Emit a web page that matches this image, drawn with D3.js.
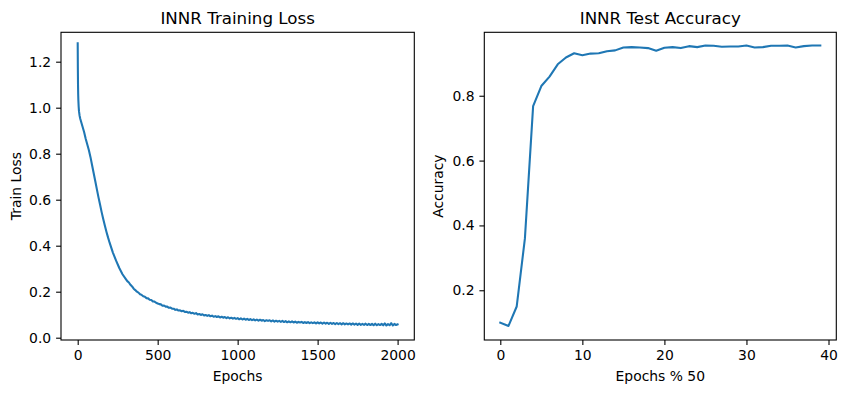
<!DOCTYPE html>
<html>
<head>
<meta charset="utf-8">
<script src="https://cdn.jsdelivr.net/npm/d3@7"></script>
<style>
  body { margin: 0; background: #fff; }
  text { font-family: "DejaVu Sans", sans-serif; fill: #000; }
</style>
</head>
<body>
<div id="chart"></div>
<script>
// training loss: epochs and values
const earlyEpochs = [0, 1, 2, 3, 4, 6, 8, 12, 16, 20, 30, 40, 50, 60, 70, 80, 90, 100, 110, 120, 130, 140,
  150, 160, 170, 180, 190, 200, 220, 240, 260, 280]
const earlyLoss = [1.28, 1.17, 1.10, 1.06, 1.035, 1.005, 0.985, 0.965, 0.952, 0.942, 0.918, 0.894, 0.865, 0.84, 0.815, 0.785, 0.75, 0.715, 0.68, 0.645, 0.61, 0.578,
  0.545, 0.515, 0.487, 0.46, 0.435, 0.412, 0.37, 0.335, 0.303, 0.276]
// from epoch 300 on, one value every 10 epochs
const lateLoss = [
  0.256, 0.246, 0.240, 0.230, 0.223, 0.213, 0.207, 0.200, 0.196, 0.189,
  0.186, 0.180, 0.178, 0.172, 0.171, 0.165, 0.164, 0.158, 0.157, 0.152,
  0.149, 0.146, 0.145, 0.139, 0.140, 0.135, 0.135, 0.130, 0.131, 0.126,
  0.126, 0.121, 0.123, 0.118, 0.119, 0.115, 0.117, 0.112, 0.113, 0.109,
  0.111, 0.106, 0.108, 0.104, 0.107, 0.101, 0.103, 0.099, 0.102, 0.097,
  0.099, 0.095, 0.098, 0.093, 0.096, 0.091, 0.094, 0.090, 0.093, 0.088,
  0.091, 0.087, 0.090, 0.085, 0.089, 0.084, 0.087, 0.083, 0.086, 0.082,
  0.085, 0.080, 0.084, 0.079, 0.083, 0.078, 0.082, 0.077, 0.081, 0.076,
  0.080, 0.075, 0.079, 0.074, 0.078, 0.074, 0.077, 0.072, 0.076, 0.073,
  0.076, 0.071, 0.075, 0.070, 0.074, 0.070, 0.073, 0.069, 0.073, 0.068,
  0.072, 0.067, 0.071, 0.067, 0.071, 0.066, 0.070, 0.065, 0.069, 0.066,
  0.069, 0.064, 0.068, 0.064, 0.068, 0.063, 0.067, 0.063, 0.067, 0.062,
  0.067, 0.062, 0.066, 0.061, 0.066, 0.061, 0.065, 0.060, 0.065, 0.060,
  0.064, 0.059, 0.064, 0.059, 0.063, 0.058, 0.063, 0.058, 0.062, 0.058,
  0.062, 0.057, 0.062, 0.057, 0.061, 0.056, 0.061, 0.056, 0.060, 0.056,
  0.061, 0.055, 0.060, 0.055, 0.060, 0.054, 0.061, 0.054, 0.059, 0.055,
  0.060, 0.054, 0.062, 0.053, 0.059, 0.054, 0.063, 0.053, 0.060, 0.055,
  0.058]
const lateStart = 300
const lateStep = 10

// test accuracy, one value per 50 epochs
const accuracy = [0.100, 0.090, 0.150, 0.360, 0.768, 0.830, 0.859, 0.897, 0.918, 0.931,
  0.925, 0.930, 0.931, 0.937, 0.940, 0.949, 0.950, 0.949, 0.947, 0.939,
  0.948, 0.950, 0.947, 0.953, 0.950, 0.955, 0.954, 0.951, 0.952, 0.952,
  0.955, 0.949, 0.950, 0.954, 0.954, 0.955, 0.949, 0.953, 0.955, 0.955]

const lossTicksX = [0, 500, 1000, 1500, 2000]
const lossTicksY = [0.0, 0.2, 0.4, 0.6, 0.8, 1.0, 1.2]
const accTicksX = [0, 10, 20, 30, 40]
const accTicksY = [0.2, 0.4, 0.6, 0.8]

const lossData = earlyEpochs.map((e, i) => ({ x: e, y: earlyLoss[i] }))
  .concat(lateLoss.map((v, i) => ({ x: lateStart + i * lateStep, y: v })))
const accData = accuracy.map((v, i) => ({ x: i, y: v }))

const W = 847, H = 393
const blue = '#1f77b4'
const tick = 4.9, pad = 4.9

const svg = d3.select('#chart').append('svg')
  .attr('width', W).attr('height', H)

function panel(opts) {
  let { left, right, top, bottom, data, xDomain, yDomain, xTicks, yTicks, yFmt, title, xLabel, yLabel, yLabelX } = opts

  let x = d3.scaleLinear().domain(xDomain).range([left, right])
  let y = d3.scaleLinear().domain(yDomain).range([bottom, top])

  svg.append('path')
    .datum(data)
    .attr('fill', 'none')
    .attr('stroke', blue)
    .attr('stroke-width', 2.08)
    .attr('stroke-linejoin', 'round')
    .attr('stroke-linecap', 'square')
    .attr('d', d3.line().x(d => x(d.x)).y(d => y(d.y)))

  // frame
  svg.append('rect')
    .attr('x', left).attr('y', top)
    .attr('width', right - left).attr('height', bottom - top)
    .attr('fill', 'none').attr('stroke', '#000').attr('stroke-width', 1.1)

  let gx = svg.append('g')
    .attr('transform', 'translate(0,' + bottom + ')')
    .call(d3.axisBottom(x).tickValues(xTicks).tickSize(tick).tickPadding(pad).tickFormat(d3.format('d')))
  let gy = svg.append('g')
    .attr('transform', 'translate(' + left + ',0)')
    .call(d3.axisLeft(y).tickValues(yTicks).tickSize(tick).tickPadding(pad).tickFormat(yFmt))

  for (let g of [gx, gy]) {
    g.select('.domain').remove()
    g.selectAll('.tick line').attr('stroke', '#000').attr('stroke-width', 1.1)
    g.selectAll('.tick text').attr('font-size', 13.9).attr('font-family', '"DejaVu Sans", sans-serif')
  }

  svg.append('text')
    .attr('x', (left + right) / 2).attr('y', 24)
    .attr('text-anchor', 'middle')
    .attr('font-size', 16.7)
    .text(title)

  svg.append('text')
    .attr('x', (left + right) / 2).attr('y', 381)
    .attr('text-anchor', 'middle')
    .attr('font-size', 13.9)
    .text(xLabel)

  svg.append('text')
    .attr('transform', 'translate(' + yLabelX + ',' + (top + bottom) / 2 + ') rotate(-90)')
    .attr('text-anchor', 'middle')
    .attr('font-size', 13.9)
    .text(yLabel)
}

panel({
  left: 61, right: 414.3, top: 32.3, bottom: 340,
  data: lossData,
  xDomain: [-104.4, 2104.4],
  yDomain: [-0.01, 1.3278],
  xTicks: lossTicksX, yTicks: lossTicksY,
  yFmt: d3.format('.1f'),
  title: 'INNR Training Loss', xLabel: 'Epochs', yLabel: 'Train Loss', yLabelX: 21
})

panel({
  left: 484.3, right: 836.3, top: 32.3, bottom: 340,
  data: accData,
  xDomain: [-1.95, 40.95],
  yDomain: [0.0466, 0.9957],
  xTicks: accTicksX, yTicks: accTicksY,
  yFmt: d3.format('.1f'),
  title: 'INNR Test Accuracy', xLabel: 'Epochs % 50', yLabel: 'Accuracy', yLabelX: 443
})
</script>
</body>
</html>
